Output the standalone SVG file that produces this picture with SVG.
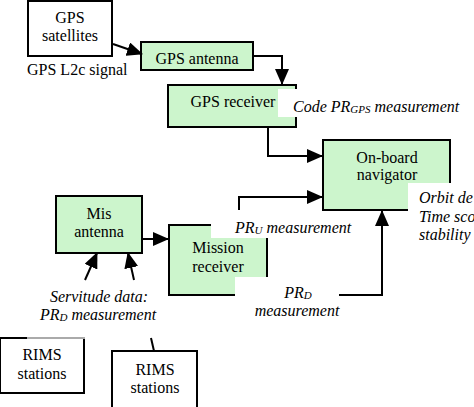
<svg xmlns="http://www.w3.org/2000/svg" width="474" height="407" viewBox="0 0 474 407">
<style>
text{font-family:'Liberation Serif','DejaVu Serif',serif;font-size:16px;fill:#000}
.c{text-anchor:middle}
.i{font-style:italic}
.g{fill:#ccf5cc;stroke:#000;stroke-width:2}
.w{fill:#fff;stroke:#000;stroke-width:2}
.lbl{fill:#fff;stroke:none}
.ln{fill:none;stroke:#000;stroke-width:2}
.sub{font-size:11px}
</style>
<defs>
<marker id="ah" markerUnits="userSpaceOnUse" markerWidth="16" markerHeight="14" viewBox="0 0 16 14" refX="15" refY="7" orient="auto">
<path d="M0,0 L16,7 L0,14 Z" fill="#000"/>
</marker>
</defs>
<g font-family="Liberation Serif, DejaVu Serif, serif">
<g id="gps-satellites">
<rect class="w" x="28" y="1" width="84" height="55"/>
<text class="c" x="70" y="23">GPS</text>
<text class="c" x="70" y="41">satellites</text>
</g>
<text id="label-l2c" x="27" y="75">GPS L2c signal</text>

<g id="gps-antenna">
<rect class="g" x="141" y="42" width="112" height="28"/>
<text class="c" x="197" y="64">GPS antenna</text>
</g>

<g id="gps-receiver">
<rect class="g" x="168" y="85" width="128" height="42"/>
<text class="c" x="233" y="107">GPS receiver</text>
</g>

<g id="navigator">
<rect class="g" x="323" y="140" width="127" height="70"/>
<text class="c" x="387" y="163">On-board</text>
<text class="c" x="387" y="180">navigator</text>
</g>

<g id="mis-antenna">
<rect class="g" x="56" y="196" width="86" height="57"/>
<text class="c" x="99" y="219">Mis</text>
<text class="c" x="99" y="237">antenna</text>
</g>

<g id="mission-receiver">
<rect class="g" x="169" y="225" width="98" height="70"/>
<text class="c" x="218" y="253">Mission</text>
<text class="c" x="218" y="272">receiver</text>
</g>

<g id="rims-1">
<rect class="w" x="0" y="338" width="84" height="55"/>
<line x1="27" y1="338" x2="85" y2="338" stroke="#aaa" stroke-width="2"/>
<text class="c" x="42" y="360">RIMS</text>
<text class="c" x="42" y="379">stations</text>
</g>

<g id="rims-2">
<rect class="w" x="112" y="351" width="85" height="60"/>
<text class="c" x="155" y="375">RIMS</text>
<text class="c" x="155" y="393">stations</text>
</g>

<g id="connectors">
<line class="ln" x1="113" y1="44" x2="142" y2="54" marker-end="url(#ah)"/>
<polyline class="ln" points="253,56 282,56 282,84" marker-end="url(#ah)"/>
<polyline class="ln" points="268,127 268,156 322,156" marker-end="url(#ah)"/>
<polyline class="ln" points="239,210 239,197 322,197" marker-end="url(#ah)"/>
<polyline class="ln" points="339,295 382,295 382,211" marker-end="url(#ah)"/>
<line class="ln" x1="142" y1="239" x2="168" y2="239" marker-end="url(#ah)"/>
<line class="ln" x1="85" y1="280" x2="97" y2="253" marker-end="url(#ah)"/>
<line class="ln" x1="134" y1="280" x2="128" y2="253" marker-end="url(#ah)"/>
<line class="ln" x1="151" y1="338" x2="154" y2="351"/>
</g>

<g id="label-code">
<rect class="lbl" x="278" y="89" width="190" height="28"/>
<text class="i" x="293" y="112">Code PR<tspan class="sub" dy="1">GPS</tspan><tspan dy="-1"> measurement</tspan></text>
</g>
<g id="label-orbit">
<rect class="lbl" x="408" y="183" width="66" height="62"/>
<text class="i" x="419" y="203">Orbit de</text>
<text class="i" x="419" y="222">Time sco</text>
<text class="i" x="419" y="240">stability</text>
</g>
<g id="label-pru">
<rect class="lbl" x="211" y="215" width="150" height="23"/>
<text class="i" x="235" y="233">PR<tspan class="sub" dy="1">U</tspan><tspan dy="-1"> measurement</tspan></text>
</g>
<g id="label-prd">
<rect class="lbl" x="235" y="277" width="104" height="45"/>
<text class="i c" x="298" y="298">PR<tspan class="sub" dy="1">D</tspan></text>
<text class="i c" x="297" y="316">measurement</text>
</g>
<g id="label-servitude">
<text class="i c" x="99" y="302">Servitude data:</text>
<text class="i c" x="98" y="320">PR<tspan class="sub" dy="1">D</tspan><tspan dy="-1"> measurement</tspan></text>
</g>
</g>
</svg>
